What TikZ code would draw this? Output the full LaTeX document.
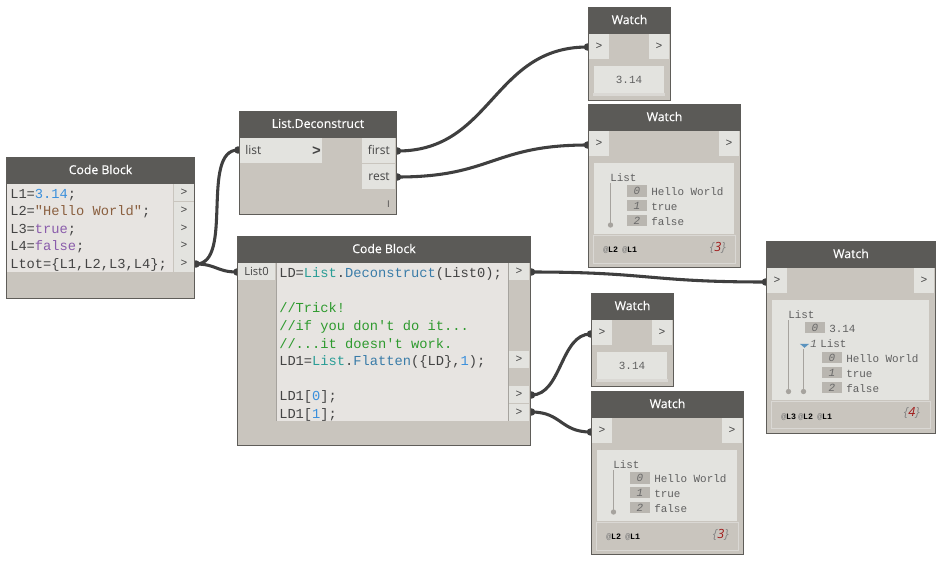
\documentclass[tikz,border=0pt]{standalone}
\usepackage{fontspec}
\setmainfont{Open Sans}
\newfontfamily\codefont{Liberation Mono}
\definecolor{hdr}{HTML}{5B5A57}
\definecolor{bodyc}{HTML}{C9C5BE}
\definecolor{edge}{HTML}{5F5D59}
\definecolor{area}{HTML}{E7E4E1}
\definecolor{portc}{HTML}{E3E3DF}
\definecolor{sep}{HTML}{C4C3BE}
\definecolor{wirec}{HTML}{3F3F3F}
\definecolor{ink}{HTML}{444444}
\definecolor{numc}{HTML}{3A8FDC}
\definecolor{strc}{HTML}{8A5F3F}
\definecolor{kwc}{HTML}{8A5CAB}
\definecolor{clsc}{HTML}{2A9D96}
\definecolor{fnc}{HTML}{3A7CA8}
\definecolor{cmt}{HTML}{2E9A2E}
\definecolor{idxc}{HTML}{B9B6B0}
\definecolor{linec}{HTML}{A6A39E}
\definecolor{footc}{HTML}{DAD8D4}
\definecolor{redc}{HTML}{A01818}
\definecolor{triac}{HTML}{5B93BE}
\usetikzlibrary{shapes.geometric}
\tikzset{
  x=0.75pt,y=-0.75pt,
  rawbox/.style={rectangle,inner sep=0pt,outer sep=0pt},
  body/.style={rawbox,fill=bodyc,draw=edge,line width=0.75pt,xshift=0.375pt,yshift=-0.375pt},
  header/.style={rawbox,fill=hdr,xshift=0.375pt},
  codearea/.style={rawbox,fill=area},
  port/.style={rawbox,fill=portc},
  watchbox/.style={rawbox,fill=portc},
  strip/.style={rawbox,fill=footc},
  footer/.style={rawbox,draw=footc,line width=0.75pt},
  idx/.style={rawbox,fill=idxc},
  title/.style={text=white,font=\fontsize{9.2pt}{11pt}\selectfont\addfontfeature{FakeBold=0.35},inner sep=0pt,anchor=center,yshift=0.75pt},
  label/.style={text=ink,font=\fontsize{9pt}{11pt}\selectfont,inner sep=0pt},
  codetext/.style={text=ink,font=\codefont\fontsize{10.3pt}{12pt}\selectfont,inner sep=0pt,anchor=base west},
  mono/.style={text=ink!85!white,font=\codefont\fontsize{8.2pt}{10pt}\selectfont,inner sep=0pt,anchor=base west},
  chev/.style={text=ink,font=\codefont\fontsize{8.4pt}{10pt}\selectfont,inner sep=0pt,anchor=center},
  idxnum/.style={text=ink!80!white,font=\codefont\itshape\fontsize{8.2pt}{10pt}\selectfont,inner sep=0pt,anchor=center},
  tag/.style={text=black,font=\codefont\bfseries\fontsize{6.2pt}{8pt}\selectfont,inner sep=0pt,anchor=base west},
  count/.style={text=ink,font=\itshape\fontsize{9.5pt}{11pt}\selectfont,inner sep=0pt,anchor=base east},
  nub/.style={circle,fill=wirec,inner sep=0pt,minimum size=5.6pt},
  wire/.style={draw=wirec,line width=2.3pt},
  listline/.style={draw=linec,line width=0.8pt},
  enddot/.style={circle,fill=linec,inner sep=0pt,minimum size=4pt},
  tria/.style={isosceles triangle,shape border rotate=-90,isosceles triangle apex angle=110,isosceles triangle stretches,fill=triac,inner sep=0pt,minimum width=7pt,minimum height=3pt},
}
\newcommand\bx[6]{\node[#1,anchor=north west,minimum width={(#5-#3)*0.75pt},minimum height={(#6-#4)*0.75pt}] (#2) at (#3,#4) {};}
\newcommand\chv[4]{\bx{port}{#1}{#2}{#3}{#2+20}{#3+#4}\node[chev] (#1-c) at (#1.center) {>};}
\newcommand\tagged[4]{\node[tag] (#1) at (#2,#3) {\textcolor{ink!70!white}{@}#4};}
\newcommand\cnt[3]{\node[count] (#1) at (#2) {\textcolor{ink!65!white}{\{}\textcolor{redc}{#3}\textcolor{ink!65!white}{\}}};}
% small watch
\newcommand\smallwatch[3]{\begin{scope}[shift={(#2,#3)}]
  \bx{body}{#1}{0}{0}{82}{93}
  \bx{header}{#1-h}{0}{0}{82}{27}
  \node[title] (#1-t) at (#1-h.center) {Watch};
  \bx{port}{#1-i}{1}{27}{21}{52}\node[chev] (#1-ic) at (#1-i.center) {>};
  \bx{port}{#1-o}{61}{27}{81}{52}\node[chev] (#1-oc) at (#1-o.center) {>};
  \bx{strip}{#1-s}{5}{86}{77}{89}
  \bx{watchbox}{#1-b}{6}{59}{76}{86}
  \node[mono,anchor=center] (#1-v) at (#1-b.center) {3.14};
\end{scope}}
% list watch (three items)
\newcommand\listwatch[3]{\begin{scope}[shift={(#2,#3)}]
  \bx{body}{#1}{0}{0}{152}{163}
  \bx{header}{#1-h}{0}{0}{152}{27}
  \node[title] (#1-t) at (#1-h.center) {Watch};
  \bx{port}{#1-i}{1}{27}{21}{52}\node[chev] (#1-ic) at (#1-i.center) {>};
  \bx{port}{#1-o}{131}{27}{151}{52}\node[chev] (#1-oc) at (#1-o.center) {>};
  \bx{watchbox}{#1-b}{6}{59}{146}{130}
  \bx{footer}{#1-f}{5}{131}{147}{159}
  \node[mono] (#1-l) at (22,77) {List};
  \node[enddot] (#1-d) at (22.5,121) {};
  \draw[listline] (#1-d.center) -- (22.5,79);
  \bx{idx}{#1-x0}{39}{81}{59}{93}\node[idxnum] (#1-x0n) at (#1-x0.center) {0};
  \bx{idx}{#1-x1}{39}{96}{59}{107}\node[idxnum] (#1-x1n) at (#1-x1.center) {1};
  \bx{idx}{#1-x2}{39}{111}{59}{122}\node[idxnum] (#1-x2n) at (#1-x2.center) {2};
  \node[mono] (#1-a) at (63,91) {Hello World};
  \node[mono] (#1-e) at (63,106) {true};
  \node[mono] (#1-g) at (63,121) {false};
  \tagged{#1-t2}{15}{148}{L2}
  \tagged{#1-t1}{34}{148}{L1}
  \cnt{#1-n}{138,147}{3}
\end{scope}}
\begin{document}
\begin{tikzpicture}
\path[use as bounding box,fill=white] (0,0) rectangle (946,572);
% connection nubs
\node[nub] (cbout) at (196,264) {};
\node[nub] (dlist) at (238,150) {};
\node[nub] (clist) at (237,272) {};
\node[nub] (dfirst) at (397.5,151) {};
\node[nub] (drest) at (397.5,177) {};
\node[nub] (w1in) at (587.5,47) {};
\node[nub] (w2in) at (587.5,145) {};
\node[nub] (ld) at (531.5,272) {};
\node[nub] (w5in) at (765.5,282) {};
\node[nub] (ld0) at (531.5,395) {};
\node[nub] (ld1) at (531.5,412) {};
\node[nub] (w3in) at (590.5,334) {};
\node[nub] (w4in) at (590.5,432) {};
% connectors
\draw[wire] (cbout.center) .. controls +(38,0) and +(-38,0) .. (dlist.center);
\draw[wire] (cbout.center) .. controls +(20,0) and +(-20,0) .. (clist.center);
\draw[wire] (dfirst.center) .. controls +(95,0) and +(-95,0) .. (w1in.center);
\draw[wire] (drest.center) .. controls +(95,0) and +(-95,0) .. (w2in.center);
\draw[wire] (ld.center) .. controls +(117,0) and +(-117,0) .. (w5in.center);
\draw[wire] (ld0.center) .. controls +(30,0) and +(-30,0) .. (w3in.center);
\draw[wire] (ld1.center) .. controls +(30,0) and +(-30,0) .. (w4in.center);
% Code Block 1
\bx{body}{cb}{6}{157}{194}{298}
\bx{header}{cbh}{6}{157}{194}{184}
\node[title] (cbt) at (cbh.center) {Code Block};
\bx{codearea}{cba}{7}{184}{173}{272}
\chv{cbp1}{174}{184}{17}
\chv{cbp2}{174}{202}{17}
\chv{cbp3}{174}{219}{17.5}
\chv{cbp4}{174}{237}{17}
\chv{cbp5}{174}{254}{18}
\node[codetext] (l1) at (10,198) {L1=\textcolor{numc}{3.14};};
\node[codetext] (l2) at (10,215.5) {L2=\textcolor{strc}{"Hello World"};};
\node[codetext] (l3) at (10,233) {L3=\textcolor{kwc}{true};};
\node[codetext] (l4) at (10,250.5) {L4=\textcolor{kwc}{false};};
\node[codetext] (l5) at (10,268) {Ltot=\{L1,L2,L3,L4\};};
% List.Deconstruct
\bx{body}{ld-n}{239}{111}{396}{214}
\bx{header}{ldh}{239}{111}{396}{138}
\node[title] (ldt) at (ldh.center) {List.Deconstruct};
\bx{port}{plist}{240}{138}{322}{163}
\node[label,anchor=west] (plt) at (245,150) {list};
\node[chev,font=\codefont\bfseries\fontsize{11pt}{12pt}\selectfont] (plc) at (316.5,151) {>};
\bx{port}{pfirst}{362}{138}{395}{163}
\node[label,anchor=east] (pft) at (390,150) {first};
\bx{port}{prest}{362}{164}{395}{189}
\node[label,anchor=east] (prt) at (390,176.5) {rest};
\node[label,font=\fontsize{7pt}{8pt}\selectfont] (lace) at (388.5,204) {I};
% Code Block 2
\bx{body}{cc}{237}{236}{530}{445}
\bx{header}{cch}{237}{236}{530}{263}
\node[title] (cct) at (cch.center) {Code Block};
\bx{port}{pl0}{238}{263}{275}{280}
\node[label,font=\fontsize{8.4pt}{10pt}\selectfont] (pl0t) at (pl0.center) {List0};
\bx{codearea}{cca}{276}{263}{508}{421}
\draw[draw=linec,line width=0.7pt] (cca.north west) -- (cca.south west);
\draw[draw=linec,line width=0.7pt] (cca.north east) -- (cca.south east);
\chv{ccp1}{509}{263}{17}
\chv{ccp2}{509}{351}{17}
\chv{ccp3}{509}{386}{17}
\chv{ccp4}{509}{404}{17}
\node[codetext] (c1) at (279,277) {LD=\textcolor{clsc}{List}.\textcolor{fnc}{Deconstruct}(List0);};
\node[codetext] (c2) at (279,312) {\textcolor{cmt}{//Trick!}};
\node[codetext] (c3) at (279,330) {\textcolor{cmt}{//if you don't do it...}};
\node[codetext] (c4) at (279,348) {\textcolor{cmt}{//...it doesn't work.}};
\node[codetext] (c5) at (279,365) {LD1=\textcolor{clsc}{List}.\textcolor{fnc}{Flatten}(\{LD\},\textcolor{numc}{1});};
\node[codetext] (c6) at (279,400) {LD1[\textcolor{numc}{0}];};
\node[codetext] (c7) at (279,418) {LD1[\textcolor{numc}{1}];};
% Watches
\smallwatch{wa}{588}{7}
\listwatch{wb}{588}{104}
\smallwatch{wc}{591}{293}
\listwatch{wd}{591}{391}
% Large watch
\bx{body}{we}{766}{241}{935}{433}
\bx{header}{weh}{766}{241}{935}{268}
\node[title] (wet) at (weh.center) {Watch};
\chv{wei}{767}{268}{25}
\chv{weo}{914}{268}{25}
\bx{watchbox}{web}{772}{300}{929}{400}
\bx{footer}{wef}{771}{401}{930}{428}
\node[mono] (wel) at (788,318) {List};
\node[enddot] (wed1) at (788.5,391.5) {};
\draw[listline] (wed1.center) -- (788.5,320);
\node[enddot] (wed2) at (803.5,391.5) {};
\draw[listline] (wed2.center) -- (803.5,349);
\bx{idx}{wex}{805}{322}{825}{333}\node[idxnum] (wexn) at (wex.center) {0};
\node[mono] (wev) at (829,332) {3.14};
\node[tria] (wetr) at (804.5,345.5) {};
\node[idxnum,anchor=base west] (wen) at (810,347) {1};
\node[mono] (wel2) at (820,347) {List};
\bx{idx}{wey0}{822}{352}{842}{363}\node[idxnum] (wey0n) at (wey0.center) {0};
\bx{idx}{wey1}{822}{367}{842}{378}\node[idxnum] (wey1n) at (wey1.center) {1};
\bx{idx}{wey2}{822}{382}{842}{393}\node[idxnum] (wey2n) at (wey2.center) {2};
\node[mono] (wea) at (846,362) {Hello World};
\node[mono] (wee) at (846,377) {true};
\node[mono] (weg) at (846,392) {false};
\tagged{wet3}{781}{419}{L3}
\tagged{wet2}{798}{419}{L2}
\tagged{wet1}{817}{419}{L1}
\cnt{wen2}{920,416}{4}
\end{tikzpicture}
\end{document}
